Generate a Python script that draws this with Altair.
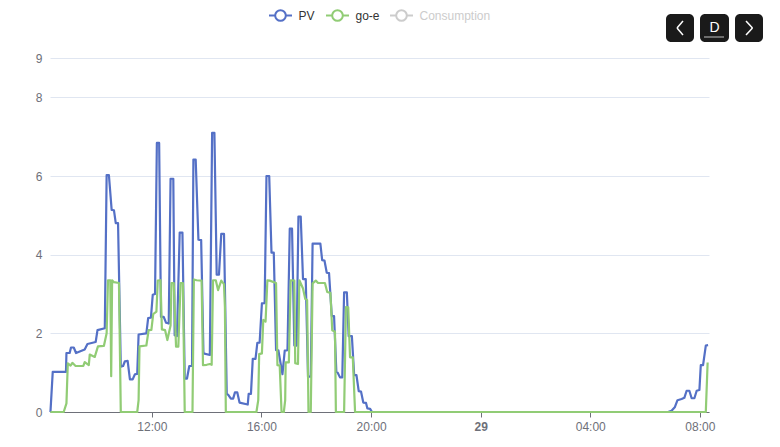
import altair as alt
import pandas as pd

# minutes since midnight of the first day
pv_minutes = [
    498, 503, 532, 533, 540, 543, 549, 554, 573, 579, 597, 601, 617, 621, 626, 632, 637, 641, 646,
    652, 657, 661, 667, 672, 678, 683, 688, 691, 708, 712, 718, 722, 727, 731, 736, 740, 746, 751,
    757, 761, 767, 770, 775, 781, 787, 792, 797, 802, 808, 811, 816, 822, 828, 833, 847, 852, 857,
    862, 867, 872, 878, 884, 887, 893, 898, 902, 907, 912, 930, 932, 937, 941, 947, 951, 956, 961,
    967, 971, 977, 982, 987, 992, 997, 1006, 1011, 1017, 1022, 1027, 1032, 1037, 1041, 1046, 1051,
    1057, 1062, 1068, 1072, 1089, 1093, 1098, 1103, 1108, 1114, 1119, 1124, 1127, 1132, 1137, 1141,
    1147, 1151, 1158, 1163, 1168, 1173, 1178, 1183, 1189, 1192, 1198, 1202, 1850, 1858, 1865, 1871,
    1880, 1886, 1891, 1897, 1902, 1908, 1913, 1919, 1922, 1927, 1933, 1938,
]
pv_values = [
    0, 1.02, 1.02, 1.5, 1.5, 1.64, 1.64, 1.5, 1.59, 1.73, 1.78, 2.08, 2.13, 6.02, 6.02, 5.14, 5.13, 4.8, 4.8,
    1.15, 1.17, 1.29, 1.3, 0.83, 0.83, 0.96, 0.97, 1.97, 2.0, 2.39, 2.4, 2.98, 3.0, 6.84, 6.84, 2.42, 2.42, 2.27,
    2.25, 5.93, 5.93, 1.95, 1.93, 4.56, 4.56, 0.85, 0.85, 1.17, 1.17, 6.42, 6.42, 4.38, 4.37, 1.49, 1.45, 7.1, 7.1,
    3.49, 3.49, 4.53, 4.53, 0.46, 0.44, 0.34, 0.34, 0.5, 0.5, 0.24, 0.19, 0.46, 0.46, 1.35, 1.35, 1.76, 1.76, 2.76,
    2.77, 6.0, 6.0, 4.05, 4.05, 1.57, 1.57, 0.96, 1.56, 1.57, 4.66, 4.66, 1.69, 1.69, 4.97, 4.97, 3.38,
    3.38, 0.9, 0.9, 4.28, 4.28, 3.86, 3.85, 3.54, 3.53, 2.44, 2.44, 1.02, 1.0, 0.88, 0.88, 3.04,
    3.04, 1.93, 1.93, 0.94, 0.94, 0.53, 0.52, 0.24, 0.23, 0.09, 0.08, 0, 0, 0.03, 0.12, 0.3,
    0.33, 0.36, 0.54, 0.54, 0.35, 0.35, 0.54, 0.56, 1.19, 1.19, 1.69, 1.7,
]
goe_minutes = [
    498, 527, 533, 536, 542, 546, 553, 570, 573, 582, 584, 595, 602, 615, 621, 624, 629, 631, 633, 637, 648,
    652, 688, 691, 693, 708, 713, 719, 723, 730, 733, 739, 742, 749, 754, 761, 763, 768, 773, 778, 783, 788,
    792, 809, 812, 818, 829, 832, 840, 847, 851, 854, 860, 865, 872, 878, 880, 882, 949, 953, 955, 961, 964,
    969, 973, 978, 992, 995, 1000, 1004, 1009, 1012, 1013, 1020, 1024, 1032, 1034, 1040, 1043, 1051, 1056,
    1060, 1063, 1068, 1072, 1079, 1084, 1099, 1104, 1111, 1115, 1121, 1123, 1141, 1145, 1150, 1154, 1160,
    1165, 1933, 1937,
]
goe_values = [
    0, 0, 0.22, 1.24, 1.18, 1.25, 1.17, 1.17, 1.27, 1.19, 1.46, 1.4, 1.67, 1.68, 2.0, 3.35, 3.35, 0.91, 3.35, 3.3, 3.28,
    0, 0, 0.3, 1.67, 1.69, 2.08, 2.09, 2.49, 2.55, 3.34, 3.35, 2.1, 2.08, 1.83, 2.2, 3.28, 3.28, 1.66, 1.66, 3.28, 3.28,
    0, 0, 3.37, 3.35, 3.34, 1.19, 1.2, 1.22, 1.2, 3.35, 3.35, 3.1, 3.34, 3.25, 2.67, 0, 0, 0.3, 1.47, 1.49, 2.34,
    2.3, 3.35, 3.34, 3.28, 1.19, 1.18, 0, 0, 0.3, 1.26, 1.26, 3.35, 3.34, 1.24, 1.22, 3.35, 3.14, 2.87,
    2.85, 0, 0, 3.27, 3.34, 3.28, 3.28, 3.05, 3.03, 2.08, 2.04, 0, 0, 2.67, 2.66, 1.39, 1.39,
    0, 0, 1.26,
]
x_ticks = [720, 960, 1200, 1440, 1680, 1920]
x_labels = ["12:00", "16:00", "20:00", "29", "04:00", "08:00"]
y_ticks = [0, 2, 4, 6, 8, 9]

PV_COLOR = "#5470c6"
GOE_COLOR = "#91cc75"
OFF_COLOR = "#cccccc"
AXIS_COLOR = "#6e7079"
FONT = "Liberation Sans"
one = pd.DataFrame({"n": [0]})


def series_line(minutes, values, color):
    df = pd.DataFrame({"minute": minutes, "value": values})
    return (
        alt.Chart(df)
        .mark_line(color=color, strokeWidth=2.2, strokeJoin="round")
        .encode(
            x=alt.X(
                "minute:Q",
                title=None,
                scale=alt.Scale(domain=[497, 1940], nice=False, zero=False),
                axis=alt.Axis(
                    values=x_ticks,
                    labelExpr=f"{x_labels}[indexof({x_ticks}, datum.value)]",
                    labelFontWeight={
                        "condition": {"test": "datum.value == 1440", "value": "bold"},
                        "value": "normal",
                    },
                    grid=False,
                    domainColor=AXIS_COLOR,
                    tickColor=AXIS_COLOR,
                    tickSize=5,
                    labelColor=AXIS_COLOR,
                    labelFont=FONT,
                    labelFontSize=12,
                    labelPadding=4,
                    labelOverlap=False,
                    labelFlush=False,
                    labelBound=False,
                ),
            ),
            y=alt.Y(
                "value:Q",
                title=None,
                scale=alt.Scale(domain=[0, 9], nice=False),
                axis=alt.Axis(
                    values=y_ticks,
                    grid=True,
                    gridColor="#e0e6f1",
                    domain=False,
                    ticks=False,
                    labelColor=AXIS_COLOR,
                    labelFont=FONT,
                    labelFontSize=12,
                    labelPadding=8,
                    labelOverlap=False,
                    labelFlush=False,
                    labelBound=False,
                ),
            ),
        )
    )


def seg(x, x2, y, y2=None, color="#ffffff", width=1.5):
    enc = {"x": alt.value(x), "x2": alt.value(x2), "y": alt.value(y)}
    if y2 is not None:
        enc["y2"] = alt.value(y2)
    return alt.Chart(one).mark_rule(color=color, strokeWidth=width).encode(**enc)


def label(text, x, y, color, size=12, align="left"):
    return (
        alt.Chart(one)
        .mark_text(text=text, color=color, font=FONT, fontSize=size, align=align, baseline="middle")
        .encode(x=alt.value(x), y=alt.value(y))
    )


def legend_item(text, x, color, text_color):
    # x is the left end of the key line, plot area starts 50px in.
    # page margin cuts anything above y=8, so the row sits a little lower than the original
    y = -42.5
    return [
        seg(x, x + 23, y, color=color, width=2),
        alt.Chart(one)
        .mark_point(shape="circle", size=113, filled=True, fill="#ffffff", stroke=color, strokeWidth=2, opacity=1)
        .encode(x=alt.value(x + 11.5), y=alt.value(y)),
        label(text, x + 29.5, y, text_color),
    ]


def button(x, x2):
    return (
        alt.Chart(one)
        .mark_rect(color="#1a1a1a", cornerRadius=5)
        .encode(x=alt.value(x), x2=alt.value(x2), y=alt.value(-44), y2=alt.value(-16))
    )


layers = [series_line(pv_minutes, pv_values, PV_COLOR), series_line(goe_minutes, goe_values, GOE_COLOR)]
layers += legend_item("PV", 219, PV_COLOR, "#333333")
layers += legend_item("go-e", 276, GOE_COLOR, "#333333")
layers += legend_item("Consumption", 340, OFF_COLOR, OFF_COLOR)
layers += [
    button(616, 644),
    button(650, 679),
    button(685, 713),
    seg(633, 627, -37, -30),
    seg(627, 633, -30, -23),
    label("D", 664.5, -30.5, "#ffffff", size=14, align="center"),
    seg(654, 674, -21, color="#8a8a8a", width=1.5),
    seg(696, 702.5, -37, -30),
    seg(702.5, 696, -30, -23),
]

chart = (
    alt.layer(*layers)
    .properties(
        width=659,
        height=354,
        autosize=alt.AutoSizeParams(type="none"),
        padding={"left": 42, "top": 50, "right": 63, "bottom": 20},
    )
    .configure_view(strokeWidth=0)
)
chart.save("out.html", embed_options={"renderer": "svg", "actions": False})
